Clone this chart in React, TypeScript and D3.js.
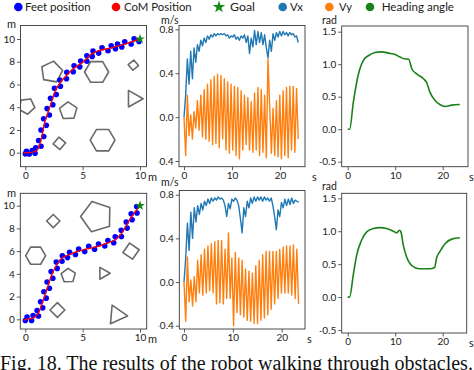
import React, { useRef, useEffect } from 'react';
import * as d3 from 'd3';

type Pt = [number, number];
// [cx, cy, radius, sides, rotation (deg)]
type Obstacle = [number, number, number, number, number];
type Box = { x0: number; x1: number; y0: number; y1: number };

const FONT = "Lato, 'Open Sans', sans-serif";

const legendLabels = ['Feet position', 'CoM Position', 'Goal', 'Vx', 'Vy', 'Heading angle'];
const legendColors = ['#0000ff', '#ff0000', '#138a13', '#1f77b4', '#ff7f0e', '#1a801a'];

const goalPos: Pt = [10, 10];

// ---- top run ----
const comTop: Pt[] = [
	[-0.15, -0.1], [0, 0], [0.5, 0.02], [1.0, 0.2], [1.28, 0.8], [1.5, 1.7], [1.7, 2.7],
	[2.0, 3.6], [2.3, 4.5], [2.6, 5.4], [3.0, 6.1], [3.6, 6.8], [4.2, 7.4], [4.8, 7.8],
	[5.4, 8.3], [5.8, 8.7], [6.5, 9.0], [7.4, 9.2], [8.5, 9.5], [9.4, 9.8], [10, 10],
];

const feetTop: Pt[] = [
	[0.0, -0.1], [0.1, 0.12], [0.35, -0.12], [0.6, 0.2], [0.85, -0.05], [0.91, 0.43], [1.37, 0.57],
	[1.16, 1.07], [1.61, 1.43], [1.37, 1.99], [1.83, 2.41], [1.6, 2.98], [2.1, 3.32],
	[1.9, 3.88], [2.4, 4.22], [2.2, 4.78], [2.7, 5.12], [2.54, 5.67], [3.06, 5.84],
	[3.01, 6.4], [3.59, 6.5], [3.62, 7.08], [4.18, 7.12], [4.25, 7.65], [4.75, 7.55],
	[4.83, 8.07], [5.37, 8.04], [5.37, 8.53], [5.83, 8.47], [5.9, 8.94], [6.4, 8.76],
	[6.69, 9.23], [7.21, 8.97], [7.49, 9.41], [7.86, 9.14], [8.04, 9.56], [8.41, 9.29],
	[8.67, 9.75], [9.23, 9.56], [9.49, 10.02], [9.91, 9.78],
];

const obstaclesTop: Obstacle[] = [
	[2.3, 7.1, 0.97, 5, 8],
	[6.22, 7.1, 1.05, 6, 0],
	[9.42, 7.7, 0.45, 4, 85],
	[9.42, 4.75, 0.85, 3, 0],
	[0.12, 4.1, 0.72, 5, -11],
	[3.75, 3.67, 0.8, 5, 20],
	[2.97, 0.82, 0.55, 4, 95],
	[6.74, 1.1, 1.08, 6, 0],
];

// ---- bottom run ----
const comBot: Pt[] = [
	[-0.15, -0.1], [0, 0], [0.7, 0.1], [1.13, 0.53], [1.42, 1.26], [1.72, 2.14], [2.0, 3.0],
	[2.3, 3.9], [2.73, 4.78], [3.17, 5.37], [3.75, 5.66], [4.48, 5.95], [5.35, 6.19],
	[6.22, 6.39], [7.09, 6.69], [7.82, 6.98], [8.4, 7.57], [8.84, 8.3], [9.27, 9.03],
	[9.7, 9.62], [10, 10],
];

const feetBot: Pt[] = [
	[0.0, -0.1], [0.15, 0.2], [0.55, -0.1], [0.68, 0.34], [1.15, 0.29], [1.03, 0.78], [1.52, 1.01],
	[1.33, 1.54], [1.82, 1.86], [1.62, 2.42], [2.1, 2.73], [1.9, 3.28], [2.4, 3.62],
	[2.25, 4.2], [2.78, 4.48], [2.7, 5.04], [3.2, 5.11], [3.23, 5.6], [3.68, 5.43],
	[3.86, 5.9], [4.37, 5.71], [4.65, 6.18], [5.18, 5.96], [5.53, 6.42], [6.04, 6.16],
	[6.38, 6.63], [6.93, 6.45], [7.2, 6.93], [7.71, 6.74], [7.84, 7.26], [8.38, 7.29],
	[8.36, 7.84], [8.88, 8.03], [8.8, 8.57], [9.31, 8.76], [9.23, 9.29], [9.74, 9.36],
	[9.71, 9.92],
];

const obstaclesBot: Obstacle[] = [
	[2.44, 8.65, 0.58, 4, 0],
	[6.22, 9.03, 1.4, 5, 35],
	[0.9, 5.6, 0.87, 6, 0],
	[9.22, 6.0, 0.72, 4, 10],
	[3.75, 3.84, 0.65, 5, 20],
	[6.8, 4.05, 0.6, 3, 0],
	[2.8, 0.82, 0.65, 4, 0],
	[7.97, 0.38, 0.95, 3, -5],
];

// ---- velocities (m/s) ----
const velTimes = [
	0, 0.35, 0.7, 1.05, 1.4, 1.75, 2.1, 2.45, 2.8, 3.15, 3.5, 3.85, 4.2, 4.55, 4.9, 5.25,
	5.6, 5.95, 6.3, 6.65, 7, 7.35, 7.7, 8.05, 8.4, 8.75, 9.1, 9.45, 9.8, 10.15, 10.5, 10.85,
	11.2, 11.55, 11.9, 12.25, 12.6, 12.95, 13.3, 13.65, 14, 14.35, 14.7, 15.05, 15.4, 15.75,
	16.1, 16.45, 16.8, 17.15, 17.5, 17.85, 18.2, 18.55, 18.9, 19.25, 19.6, 19.95, 20.3,
	20.65, 21, 21.35, 21.7, 22.05, 22.4, 22.75, 23.1, 23.45, 23.8,
];

const vxTop = [
	0, 0.2, 0.53, 0.3, 0.6, 0.35, 0.63, 0.5, 0.66, 0.6,
	0.7, 0.65, 0.72, 0.68, 0.74, 0.71, 0.75, 0.73, 0.76, 0.74,
	0.76, 0.75, 0.76, 0.75, 0.76, 0.74, 0.75, 0.72, 0.74, 0.73,
	0.75, 0.71, 0.73, 0.7, 0.74, 0.72, 0.75, 0.68, 0.74, 0.58,
	0.72, 0.64, 0.79, 0.66, 0.78, 0.68, 0.77, 0.66, 0.75, 0.63,
	0.54, 0.7, 0.6, 0.76, 0.7, 0.77, 0.73, 0.78, 0.74, 0.78,
	0.75, 0.77, 0.74, 0.77, 0.75, 0.76, 0.73, 0.74, 0.68,
];

const vyTop = [
	0, -0.35, 0.2, -0.17, 0.02, -0.2, 0.05, -0.1, 0.15, -0.12,
	0.2, -0.18, 0.25, -0.2, 0.3, -0.22, 0.34, -0.25, 0.37, -0.24,
	0.39, -0.28, 0.38, -0.2, 0.35, -0.3, 0.32, -0.33, 0.3, -0.3,
	0.28, -0.35, 0.27, -0.38, 0.24, -0.3, 0.2, -0.25, 0.18, -0.3,
	0.14, -0.32, 0.22, -0.3, 0.27, -0.35, 0.25, -0.32, 0.2, -0.37,
	0.53, 0.1, -0.33, 0.08, -0.35, 0.15, -0.36, 0.2, -0.38, 0.24,
	-0.35, 0.27, -0.37, 0.28, -0.3, 0.28, -0.32, 0.26, -0.2,
];

const vxBot = [
	0, 0.22, 0.54, 0.29, 0.64, 0.4, 0.68, 0.55, 0.7, 0.62,
	0.72, 0.66, 0.74, 0.7, 0.76, 0.72, 0.77, 0.74, 0.77, 0.75,
	0.78, 0.76, 0.77, 0.75, 0.7, 0.6, 0.72, 0.67, 0.76, 0.74,
	0.77, 0.75, 0.7, 0.58, 0.45, 0.68, 0.6, 0.74, 0.68, 0.77,
	0.72, 0.78, 0.74, 0.78, 0.75, 0.78, 0.74, 0.78, 0.75, 0.77,
	0.74, 0.77, 0.7, 0.6, 0.48, 0.66, 0.6, 0.73, 0.68, 0.76,
	0.7, 0.76, 0.71, 0.77, 0.72, 0.75, 0.74, 0.73,
];

const vyBot = [
	0, -0.36, 0.23, -0.18, 0.02, -0.22, 0.05, -0.18, 0.2, -0.1,
	0.25, -0.12, 0.3, -0.1, 0.33, -0.08, 0.35, -0.1, 0.37, -0.2,
	0.38, -0.19, 0.38, -0.2, 0.3, -0.15, 0.45, -0.15, 0.22, -0.4,
	0.27, -0.28, 0.22, -0.3, 0.2, -0.32, 0.12, -0.35, 0.1, -0.36,
	0.08, -0.38, 0.15, -0.38, 0.2, -0.35, 0.25, -0.33, 0.28, -0.3,
	0.28, -0.25, 0.28, -0.2, 0.28, -0.15, 0.3, -0.1, 0.32, -0.1,
	0.33, -0.1, 0.33, -0.12, 0.34, -0.15, 0.3, -0.2,
];

// ---- heading angle (rad) ----
const headTimesTop = [0, 0.4, 1.2, 2.2, 3.3, 4.35, 5.75, 7.2, 8.6, 10, 11, 12.1, 12.8, 13.5, 14.5, 15.9, 16.6, 17.3, 18.4, 19.4, 20.5, 21.9, 23.6];
const headTop = [0, 0, 0.42, 0.83, 1.06, 1.13, 1.18, 1.19, 1.17, 1.15, 1.11, 1.08, 1.08, 0.93, 0.85, 0.78, 0.72, 0.57, 0.44, 0.38, 0.35, 0.37, 0.38];

const headTimesBot = [0, 0.4, 1.2, 1.9, 2.9, 4, 5.4, 6.8, 8.2, 9.6, 10.3, 10.9, 11.2, 11.7, 12.4, 13.1, 14.1, 15.2, 17.3, 18.3, 18.7, 19.4, 20.5, 21.9, 23.6];
const headBot = [0, 0, 0.35, 0.64, 0.86, 0.99, 1.04, 1.055, 1.04, 1.0, 0.975, 1.015, 0.99, 0.79, 0.61, 0.51, 0.45, 0.43, 0.43, 0.45, 0.59, 0.69, 0.81, 0.88, 0.9];

const fmt1 = (d: d3.NumberValue) => d3.format('.1f')(d as number).replace('\u2212', '-');

function styleAxis(ax: any) {
	ax.select('.domain').remove();
	ax.attr('font-family', FONT).attr('font-size', 10);
	ax.selectAll('.tick line').attr('stroke', '#333').attr('stroke-width', 0.8);
	ax.selectAll('.tick text').attr('fill', '#222');
}

function frame(g: any, b: Box) {
	g.append('rect')
		.attr('x', b.x0)
		.attr('y', b.y0)
		.attr('width', b.x1 - b.x0)
		.attr('height', b.y1 - b.y0)
		.attr('fill', 'none')
		.attr('stroke', '#3a3a3a')
		.attr('stroke-width', 0.9);
}

function unitLabel(g: any, text: string, x: number, y: number, size = 11) {
	g.append('text')
		.attr('x', x)
		.attr('y', y)
		.attr('font-family', FONT)
		.attr('font-size', size)
		.attr('fill', '#222')
		.text(text);
}

function drawTraj(
	root: any, b: Box, xr: Pt, yr: Pt, com: Pt[], feet: Pt[], obs: Obstacle[], id: string, unitY: number
) {
	const x = d3.scaleLinear().domain([0, 10]).range(xr);
	const y = d3.scaleLinear().domain([0, 10]).range(yr);
	const g = root.append('g');

	g.append('clipPath').attr('id', id).append('rect')
		.attr('x', b.x0).attr('y', b.y0).attr('width', b.x1 - b.x0).attr('height', b.y1 - b.y0);
	const inner = g.append('g').attr('clip-path', `url(#${id})`);

	inner.selectAll('polygon')
		.data(obs)
		.join('polygon')
		.attr('points', (o: Obstacle) =>
			d3.range(o[3]).map((k) => {
				const a = ((o[4] + (k * 360) / o[3]) * Math.PI) / 180;
				return `${x(o[0] + o[2] * Math.cos(a))},${y(o[1] + o[2] * Math.sin(a))}`;
			}).join(' ')
		)
		.attr('fill', 'none')
		.attr('stroke', '#6a6a6a')
		.attr('stroke-width', 1.6)
		.attr('stroke-linejoin', 'round');

	inner.selectAll('circle.feet')
		.data(feet)
		.join('circle')
		.attr('class', 'feet')
		.attr('cx', (d: Pt) => x(d[0]))
		.attr('cy', (d: Pt) => y(d[1]))
		.attr('r', 2.8)
		.attr('fill', legendColors[0]);

	const line = d3.line<Pt>().x((d) => x(d[0])).y((d) => y(d[1])).curve(d3.curveCatmullRom);
	inner.append('path')
		.datum(com)
		.attr('d', line)
		.attr('fill', 'none')
		.attr('stroke', legendColors[1])
		.attr('stroke-width', 1.3);

	g.append('path')
		.attr('d', d3.symbol(d3.symbolStar, 30)())
		.attr('transform', `translate(${x(goalPos[0])},${y(goalPos[1])})`)
		.attr('fill', legendColors[2]);

	frame(g, b);

	const ay = g.append('g').attr('transform', `translate(${b.x0},0)`)
		.call(d3.axisLeft(y).tickValues([0, 2, 4, 6, 8, 10]).tickSize(3.5).tickPadding(2));
	styleAxis(ay);
	const ax = g.append('g').attr('transform', `translate(0,${b.y1})`)
		.call(d3.axisBottom(x).tickValues([0, 5, 10]).tickSize(3.5).tickPadding(1.5));
	styleAxis(ax);

	unitLabel(g, 'm', 7, unitY);
	unitLabel(g, 'm', x(10) + 8, b.y1 + 14);
}

function drawVel(
	root: any, b: Box, xr: Pt, yr: Pt, vx: number[], vy: number[], id: string, unitY: number, sX: number
) {
	const x = d3.scaleLinear().domain([0, 20]).range(xr);
	const y = d3.scaleLinear().domain([-0.4, 0.8]).range(yr);
	const g = root.append('g').attr('clip-path', `url(#${id})`);

	const line = d3.line<number>().x((_, i) => x(velTimes[i])).y((d) => y(d));
	g.append('path').datum(vx).attr('d', line).attr('fill', 'none')
		.attr('stroke', legendColors[3]).attr('stroke-width', 1.4).attr('stroke-linejoin', 'round');
	g.append('path').datum(vy).attr('d', line).attr('fill', 'none')
		.attr('stroke', legendColors[4]).attr('stroke-width', 1.4).attr('stroke-linejoin', 'round');

	frame(g, b);
	const ay = g.append('g').attr('transform', `translate(${b.x0},0)`)
		.call(d3.axisLeft(y).tickValues([-0.4, 0, 0.4, 0.8]).tickFormat(fmt1).tickSize(3.5).tickPadding(2));
	styleAxis(ay);
	const ax = g.append('g').attr('transform', `translate(0,${b.y1})`)
		.call(d3.axisBottom(x).tickValues([0, 10, 20]).tickSize(3.5).tickPadding(1.5));
	styleAxis(ax);

	unitLabel(g, 'm/s', 161, unitY, 10.5);
	unitLabel(g, 's', sX, b.y1 + 14);
}

function drawHead(
	root: any, b: Box, xr: Pt, yr: Pt, ts: number[], vals: number[], id: string, unitY: number
) {
	const x = d3.scaleLinear().domain([0, 20]).range(xr);
	const y = d3.scaleLinear().domain([-0.5, 1.5]).range(yr);
	const g = root.append('g').attr('clip-path', `url(#${id})`);

	const line = d3.line<number>().x((_, i) => x(ts[i])).y((d) => y(d)).curve(d3.curveMonotoneX);
	g.append('path').datum(vals).attr('d', line).attr('fill', 'none')
		.attr('stroke', legendColors[5]).attr('stroke-width', 1.6);

	frame(g, b);
	const ay = g.append('g').attr('transform', `translate(${b.x0},0)`)
		.call(d3.axisLeft(y).tickValues([-0.5, 0, 0.5, 1, 1.5]).tickFormat(fmt1).tickSize(3.5).tickPadding(2));
	styleAxis(ay);
	const ax = g.append('g').attr('transform', `translate(0,${b.y1})`)
		.call(d3.axisBottom(x).tickValues([0, 10, 20]).tickSize(3.5).tickPadding(1.5));
	styleAxis(ax);

	unitLabel(g, 'rad', 322, unitY, 10.5);
	unitLabel(g, 's', 469, b.y1 + 14);
}

const App: React.FC = () => {
	const svgRef = useRef<SVGSVGElement | null>(null);

	useEffect(() => {
		const svg = d3.select(svgRef.current);
		svg.selectAll('*').remove();

		svg.append('rect').attr('width', 474).attr('height', 370).attr('fill', '#fff');

		// column clips: the sub-figures are cropped at their left edge
		const defs = svg.append('defs');
		defs.append('clipPath').attr('id', 'colVel').append('rect')
			.attr('x', 158.5).attr('y', 0).attr('width', 160).attr('height', 370);
		defs.append('clipPath').attr('id', 'colHead').append('rect')
			.attr('x', 319.5).attr('y', 0).attr('width', 160).attr('height', 370);

		// legend
		const markX = [18.3, 116, 219, 282.7, 329.3, 370];
		const textX = [25, 124, 230, 290, 339, 381.7];
		const textW = [65.7, 67.7, 25, 13, 13, 72.3];
		const lg = svg.append('g');
		legendLabels.forEach((lab, i) => {
			if (i === 2) {
				lg.append('path')
					.attr('d', d3.symbol(d3.symbolStar, 48)())
					.attr('transform', `translate(${markX[i]},7)`)
					.attr('fill', legendColors[i]);
			} else {
				lg.append('circle').attr('cx', markX[i]).attr('cy', 7).attr('r', 4.3).attr('fill', legendColors[i]);
			}
			lg.append('text')
				.attr('x', textX[i])
				.attr('y', 10.5)
				.attr('font-family', FONT)
				.attr('font-size', 11.5)
				.attr('fill', '#222')
				.attr('textLength', textW[i])
				.attr('lengthAdjust', 'spacingAndGlyphs')
				.text(lab);
		});

		drawTraj(svg, { x0: 20.5, x1: 146.5, y0: 25.5, y1: 166.7 }, [25.3, 140], [152.7, 39],
			comTop, feetTop, obstaclesTop, 'clipTrajTop', 28);
		drawTraj(svg, { x0: 20.3, x1: 146.7, y0: 193.3, y1: 329 }, [25.3, 140], [319.3, 205.7],
			comBot, feetBot, obstaclesBot, 'clipTrajBot', 197);

		drawVel(svg, { x0: 179, x1: 305, y0: 25.5, y1: 166.7 }, [184, 280], [161, 29.3],
			vxTop, vyTop, 'colVel', 23.5, 312);
		drawVel(svg, { x0: 179.3, x1: 305, y0: 190.5, y1: 329 }, [184, 281.7], [325.7, 194.7],
			vxBot, vyBot, 'colVel', 186, 307);

		drawHead(svg, { x0: 341.7, x1: 468, y0: 26, y1: 166.7 }, [347.7, 442.7], [161.7, 31.7],
			headTimesTop, headTop, 'colHead', 23.5);
		drawHead(svg, { x0: 341.7, x1: 466.7, y0: 193.3, y1: 333 }, [347.7, 442.7], [330, 198.3],
			headTimesBot, headBot, 'colHead', 190);

		svg.append('text')
			.attr('x', 0)
			.attr('y', 370)
			.attr('font-family', "'Liberation Serif', serif")
			.attr('font-size', 20)
			.attr('fill', '#111')
			.text('Fig. 18. The results of the robot walking through obstacles.');
	}, []);

	return (
		<>
			<style>{'body{margin:0}'}</style>
			<svg ref={svgRef} width={474} height={370} style={{ display: 'block' }} />
		</>
	);
};

export default App;
